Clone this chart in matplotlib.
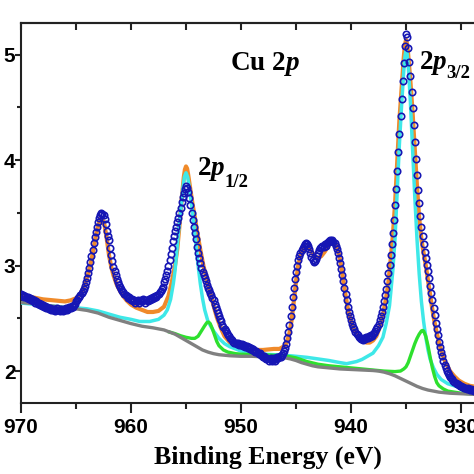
"""
Cu 2p XPS spectrum with peak fit (orange), main components (cyan),
shake-up/Cu2+ components (green) and Shirley background (gray).
"""
import numpy as np
import matplotlib
matplotlib.use("Agg")
import matplotlib.pyplot as plt
from matplotlib.ticker import MultipleLocator

plt.rcParams['font.family'] = ['Liberation Sans', 'DejaVu Sans']
plt.rcParams['font.weight'] = 'bold'
plt.rcParams['mathtext.fontset'] = 'custom'
plt.rcParams['mathtext.rm'] = 'Liberation Serif:bold'
plt.rcParams['mathtext.bf'] = 'Liberation Serif:bold'
plt.rcParams['mathtext.it'] = 'Liberation Serif:bold:italic'
plt.rcParams['mathtext.bfit'] = 'Liberation Serif:bold:italic'

# measured points, scan from 970.0 to 928.8 eV in 0.1 eV steps
energy = np.linspace(970.0, 928.8, 413)
counts = [
    2.73, 2.71, 2.72, 2.70, 2.71, 2.69, 2.70, 2.68, 2.69, 2.67,  # 970
    2.68, 2.66, 2.67, 2.65, 2.66, 2.64, 2.65, 2.63, 2.64, 2.62,  # 969
    2.63, 2.61, 2.62, 2.60, 2.61, 2.59, 2.60, 2.58, 2.59, 2.58,  # 968
    2.59, 2.57, 2.58, 2.60, 2.58, 2.57, 2.59, 2.58, 2.57, 2.59,  # 967
    2.58, 2.60, 2.58, 2.59, 2.61, 2.60, 2.62, 2.61, 2.63, 2.64,  # 966
    2.66, 2.67, 2.69, 2.70, 2.72, 2.74, 2.76, 2.78, 2.81, 2.84,  # 965
    2.88, 2.93, 2.98, 3.03, 3.09, 3.15, 3.21, 3.27, 3.32, 3.37,  # 964
    3.41, 3.45, 3.48, 3.50, 3.49, 3.48, 3.44, 3.39, 3.33, 3.28,  # 963
    3.24, 3.17, 3.10, 3.04, 2.99, 2.95, 2.91, 2.87, 2.84, 2.82,  # 962
    2.80, 2.78, 2.76, 2.75, 2.73, 2.72, 2.71, 2.69, 2.70, 2.68,  # 961
    2.67, 2.68, 2.66, 2.67, 2.65, 2.66, 2.67, 2.65, 2.66, 2.67,  # 960
    2.66, 2.68, 2.67, 2.65, 2.67, 2.66, 2.68, 2.67, 2.69, 2.68,  # 959
    2.70, 2.69, 2.71, 2.70, 2.72, 2.73, 2.75, 2.76, 2.78, 2.80,  # 958
    2.84, 2.87, 2.91, 2.95, 3.00, 3.05, 3.11, 3.17, 3.23, 3.28,  # 957
    3.33, 3.37, 3.41, 3.45, 3.50, 3.55, 3.60, 3.65, 3.69, 3.73,  # 956
    3.75, 3.74, 3.70, 3.64, 3.57, 3.50, 3.43, 3.37, 3.31, 3.25,  # 955
    3.18, 3.12, 3.07, 3.02, 2.98, 2.94, 2.91, 2.88, 2.85, 2.82,  # 954
    2.79, 2.77, 2.74, 2.72, 2.69, 2.67, 2.64, 2.61, 2.58, 2.55,  # 953
    2.52, 2.49, 2.47, 2.44, 2.42, 2.40, 2.38, 2.36, 2.34, 2.33,  # 952
    2.31, 2.30, 2.29, 2.28, 2.27, 2.27, 2.26, 2.27, 2.25, 2.26,  # 951
    2.25, 2.26, 2.24, 2.25, 2.23, 2.24, 2.22, 2.23, 2.21, 2.22,  # 950
    2.20, 2.21, 2.19, 2.18, 2.19, 2.17, 2.16, 2.17, 2.15, 2.14,  # 949
    2.13, 2.14, 2.12, 2.11, 2.12, 2.10, 2.11, 2.12, 2.10, 2.11,  # 948
    2.12, 2.10, 2.11, 2.13, 2.12, 2.14, 2.13, 2.15, 2.17, 2.19,  # 947
    2.22, 2.26, 2.31, 2.37, 2.44, 2.52, 2.61, 2.70, 2.79, 2.87,  # 946
    2.94, 3.00, 3.05, 3.09, 3.12, 3.15, 3.17, 3.19, 3.20, 3.21,  # 945
    3.20, 3.19, 3.16, 3.12, 3.08, 3.05, 3.03, 3.04, 3.06, 3.09,  # 944
    3.12, 3.15, 3.17, 3.18, 3.19, 3.18, 3.20, 3.19, 3.21, 3.22,  # 943
    3.23, 3.24, 3.23, 3.24, 3.22, 3.21, 3.19, 3.16, 3.12, 3.07,  # 942
    3.02, 2.97, 2.91, 2.85, 2.79, 2.73, 2.67, 2.61, 2.56, 2.52,  # 941
    2.48, 2.45, 2.42, 2.40, 2.37, 2.35, 2.34, 2.32, 2.31, 2.30,  # 940
    2.30, 2.29, 2.31, 2.30, 2.32, 2.31, 2.33, 2.32, 2.34, 2.33,  # 939
    2.35, 2.36, 2.38, 2.40, 2.42, 2.45, 2.48, 2.52, 2.56, 2.61,  # 938
    2.66, 2.72, 2.78, 2.85, 2.93, 3.01, 3.10, 3.20, 3.31, 3.43,  # 937
    3.57, 3.73, 3.90, 4.08, 4.25, 4.42, 4.58, 4.75, 4.92, 5.08,  # 936
    5.20, 5.17, 5.06, 4.93, 4.80, 4.65, 4.49, 4.33, 4.17, 4.01,  # 935
    3.86, 3.72, 3.59, 3.47, 3.37, 3.28, 3.20, 3.13, 3.07, 3.01,  # 934
    2.95, 2.88, 2.81, 2.74, 2.67, 2.60, 2.53, 2.46, 2.40, 2.34,  # 933
    2.28, 2.23, 2.18, 2.14, 2.10, 2.06, 2.03, 2.00, 1.98, 1.96,  # 932
    1.94, 1.93, 1.92, 1.91, 1.90, 1.89, 1.88, 1.88, 1.87, 1.86,  # 931
    1.86, 1.85, 1.85, 1.84, 1.84, 1.83, 1.84, 1.83, 1.82, 1.83,  # 930
    1.82, 1.82, 1.81,
]

# total fit envelope
fit_e = [970.0, 969.0, 968.0, 967.0, 966.0, 965.5, 965.0, 964.6, 964.2, 963.9,
         963.6, 963.4, 963.2, 963.0, 962.8, 962.7, 962.6, 962.4, 962.2, 962.0,
         961.8, 961.6, 961.3, 961.0, 960.7, 960.4, 960.0, 959.5, 959.0, 958.5,
         958.0, 957.5, 957.0, 956.6, 956.3, 956.0, 955.8, 955.6, 955.4, 955.2,
         955.1, 955.0, 954.9, 954.8, 954.6, 954.4, 954.2, 954.0, 953.7, 953.4,
         953.0, 952.6, 952.2, 951.8, 951.5, 951.0, 950.5, 950.0, 949.0, 948.0,
         947.0, 946.5, 946.0, 945.8, 945.6, 945.4, 945.2, 945.0, 944.8, 944.6,
         944.4, 944.2, 943.9, 943.6, 943.3, 943.0, 942.7, 942.4, 942.1, 941.8,
         941.5, 941.3, 941.1, 940.9, 940.7, 940.5, 940.3, 940.1, 939.8, 939.5,
         939.0, 938.6, 938.3, 938.0, 937.7, 937.4, 937.1, 936.8, 936.6, 936.4,
         936.2, 936.0, 935.8, 935.6, 935.4, 935.2, 935.1, 935.0, 934.9, 934.8,
         934.6, 934.4, 934.2, 934.0, 933.8, 933.6, 933.4, 933.2, 933.0, 932.8,
         932.6, 932.4, 932.2, 932.0, 931.7, 931.4, 931.0, 930.6, 930.2, 929.7,
         929.2, 928.6]
fit_y = [2.72, 2.70, 2.68, 2.67, 2.66, 2.67, 2.69, 2.73, 2.82, 2.92,
         3.05, 3.16, 3.28, 3.37, 3.44, 3.45, 3.44, 3.38, 3.25, 3.10,
         2.99, 2.91, 2.82, 2.76, 2.71, 2.67, 2.63, 2.60, 2.58, 2.56,
         2.56, 2.57, 2.61, 2.71, 2.84, 3.00, 3.15, 3.37, 3.62, 3.84,
         3.91, 3.94, 3.92, 3.86, 3.72, 3.58, 3.46, 3.33, 3.15, 2.99,
         2.83, 2.66, 2.51, 2.40, 2.33, 2.27, 2.23, 2.21, 2.20, 2.20,
         2.21, 2.21, 2.24, 2.28, 2.36, 2.48, 2.66, 2.85, 3.00, 3.09,
         3.14, 3.17, 3.18, 3.14, 3.08, 3.07, 3.09, 3.13, 3.18, 3.22,
         3.21, 3.18, 3.11, 3.00, 2.86, 2.72, 2.60, 2.51, 2.41, 2.35,
         2.29, 2.27, 2.27, 2.29, 2.33, 2.41, 2.53, 2.70, 2.84, 3.05,
         3.28, 3.58, 3.98, 4.38, 4.68, 4.98, 5.09, 5.14, 5.10, 5.00,
         4.75, 4.45, 4.10, 3.75, 3.45, 3.25, 3.12, 3.00, 2.86, 2.72,
         2.58, 2.46, 2.36, 2.27, 2.16, 2.08, 2.00, 1.95, 1.91, 1.88,
         1.86, 1.85]

# main 2p3/2 + 2p1/2 components on background
main_e = [970.0, 968.0, 966.0, 965.0, 964.0, 963.0, 962.0, 961.0, 960.0, 959.2,
          958.3, 957.5, 957.0, 956.7, 956.4, 956.15, 956.0, 955.85, 955.7, 955.5,
          955.3, 955.15, 955.0, 954.85, 954.7, 954.5, 954.3, 954.1, 953.9, 953.7,
          953.5, 953.3, 953.0, 952.5, 952.0, 951.5, 951.0, 950.0, 949.0, 948.0,
          946.0, 944.0, 942.0, 941.0, 940.4, 939.5, 939.0, 938.5, 938.0, 937.5,
          937.1, 936.8, 936.5, 936.2, 936.0, 935.8, 935.6, 935.4, 935.2, 935.1,
          935.0, 934.9, 934.8, 934.6, 934.4, 934.2, 934.0, 933.8, 933.6, 933.4,
          933.2, 933.0, 932.8, 932.5, 932.2, 931.8, 931.2, 930.6, 930.0, 929.0,
          928.6]
main_y = [2.645, 2.625, 2.605, 2.60, 2.59, 2.57, 2.54, 2.51, 2.49, 2.47,
          2.47, 2.49, 2.53, 2.58, 2.68, 2.83, 2.95, 3.12, 3.30, 3.50,
          3.72, 3.84, 3.88, 3.84, 3.74, 3.58, 3.40, 3.20, 3.00, 2.83,
          2.69, 2.58, 2.47, 2.38, 2.31, 2.26, 2.23, 2.19, 2.17, 2.16,
          2.15, 2.13, 2.10, 2.08, 2.07, 2.09, 2.11, 2.14, 2.17, 2.24,
          2.32, 2.45, 2.62, 2.95, 3.25, 3.70, 4.15, 4.52, 4.85, 4.98,
          5.04, 5.01, 4.90, 4.55, 4.10, 3.65, 3.25, 2.92, 2.66, 2.47,
          2.32, 2.20, 2.11, 2.03, 1.97, 1.92, 1.88, 1.86, 1.84, 1.82,
          1.81]

# second (Cu2+) components on background
sat_e = [956.5, 956.0, 955.5, 955.0, 954.5, 954.2, 953.9, 953.6, 953.3, 953.1,
         952.95, 952.8, 952.6, 952.4, 952.2, 952.0, 951.6, 951.2, 950.5, 950.0,
         948.0, 946.0, 945.0, 944.0, 943.0, 942.0, 941.0, 940.0, 939.0, 938.0,
         937.0, 936.0, 935.5, 935.2, 935.0, 934.8, 934.6, 934.4, 934.2, 934.0,
         933.8, 933.6, 933.5, 933.4, 933.2, 933.0, 932.8, 932.6, 932.4, 932.2,
         932.0, 931.6, 931.2, 930.6, 930.0, 929.0, 928.6]
sat_y = [2.37, 2.355, 2.335, 2.32, 2.31, 2.31, 2.33, 2.38, 2.43, 2.46,
         2.465, 2.45, 2.40, 2.34, 2.28, 2.24, 2.20, 2.18, 2.165, 2.16,
         2.155, 2.145, 2.125, 2.09, 2.065, 2.05, 2.04, 2.03, 2.02, 2.01,
         2.00, 1.995, 2.00, 2.02, 2.04, 2.08, 2.14, 2.20, 2.26, 2.31,
         2.35, 2.38, 2.385, 2.38, 2.33, 2.24, 2.13, 2.03, 1.95, 1.89,
         1.86, 1.83, 1.81, 1.80, 1.79, 1.785, 1.785]

# Shirley background
bg_e = [970.0, 969.0, 968.0, 967.0, 966.0, 965.0, 964.0, 963.0, 962.5, 962.0,
        961.0, 960.0, 959.0, 958.0, 957.0, 956.5, 956.0, 955.5, 955.0, 954.5,
        954.0, 953.5, 953.0, 952.5, 952.0, 951.0, 950.0, 949.0, 948.0, 947.0,
        946.0, 945.5, 945.0, 944.5, 944.0, 943.5, 943.0, 942.0, 941.0, 940.0,
        939.0, 938.0, 937.5, 937.0, 936.5, 936.0, 935.5, 935.0, 934.5, 934.0,
        933.5, 933.0, 932.5, 932.0, 931.0, 930.0, 929.0, 928.6]
bg_y = [2.65, 2.64, 2.625, 2.615, 2.60, 2.59, 2.575, 2.55, 2.53, 2.51,
        2.48, 2.45, 2.425, 2.41, 2.39, 2.37, 2.35, 2.32, 2.29, 2.26,
        2.23, 2.20, 2.18, 2.165, 2.155, 2.145, 2.14, 2.14, 2.135, 2.13,
        2.125, 2.115, 2.10, 2.08, 2.065, 2.05, 2.04, 2.03, 2.02, 2.015,
        2.01, 2.005, 2.00, 1.99, 1.975, 1.955, 1.93, 1.905, 1.88, 1.855,
        1.835, 1.82, 1.81, 1.80, 1.79, 1.785, 1.78, 1.78]

fig = plt.figure(figsize=(4.74, 4.74), dpi=100)
# the original picture is cropped on the right, so the axes runs past the edge
ax = fig.add_axes([21 / 474, 1 - 402.7 / 474, 44 * 11 / 474, 379.7 / 474])

ax.plot(fit_e, fit_y, color='#f08a2a', lw=3.0, zorder=2)
ax.plot(main_e, main_y, color='#3ee8e8', lw=2.5, zorder=3)
ax.plot(sat_e, sat_y, color='#2ee02e', lw=2.4, zorder=4)
ax.plot(bg_e, bg_y, color='#808080', lw=2.4, zorder=5)
ax.plot(energy, counts, 'o', ms=4.6, mfc='none', mec='#1616b4', mew=1.2, zorder=6)

ax.set_xlim(970, 926)
ax.set_ylim(1.70, 5.30)

ax.xaxis.set_major_locator(MultipleLocator(10))
ax.xaxis.set_minor_locator(MultipleLocator(5))
ax.yaxis.set_major_locator(MultipleLocator(1))
ax.yaxis.set_minor_locator(MultipleLocator(0.5))
ax.tick_params(which='both', direction='out', width=1.5, labelsize=15, color='#222222')
ax.tick_params(axis='x', which='major', length=7, pad=4)
ax.tick_params(axis='x', which='minor', length=4.5)
ax.tick_params(axis='y', which='major', length=4, pad=0)
ax.tick_params(axis='y', which='minor', length=3)

top = ax.secondary_xaxis('top')
top.xaxis.set_major_locator(MultipleLocator(5))
top.tick_params(direction='in', length=5, width=1.5, labeltop=False, color='#222222')
top.spines['top'].set_linewidth(1.5)
top.spines['top'].set_color('#222222')

for s in ax.spines.values():
    s.set_linewidth(1.5)
    s.set_color('#222222')

serif = dict(family='Liberation Serif', weight='bold')
fig.text(230 / 474, 1 - 70 / 474, r'Cu 2$\mathbfit{p}$', va='baseline', size=19.5, **serif)
# peak labels: "2p" plus a smaller, lowered j-subscript
fig.text(419 / 474, 1 - 69 / 474, r'2$\mathbfit{p}$', va='baseline', size=19.5, **serif)
fig.text(446 / 474, 1 - 78 / 474, '3/2', va='baseline', size=13.5, **serif)
fig.text(197 / 474, 1 - 175 / 474, r'2$\mathbfit{p}$', va='baseline', size=19.5, **serif)
fig.text(225 / 474, 1 - 187 / 474, '1/2', va='baseline', size=13.5, **serif)
fig.text(268 / 474, 1 - 464 / 474, 'Binding Energy (eV)', ha='center', va='baseline',
         size=18.5, **serif)

fig.savefig('out.png', dpi=100)
